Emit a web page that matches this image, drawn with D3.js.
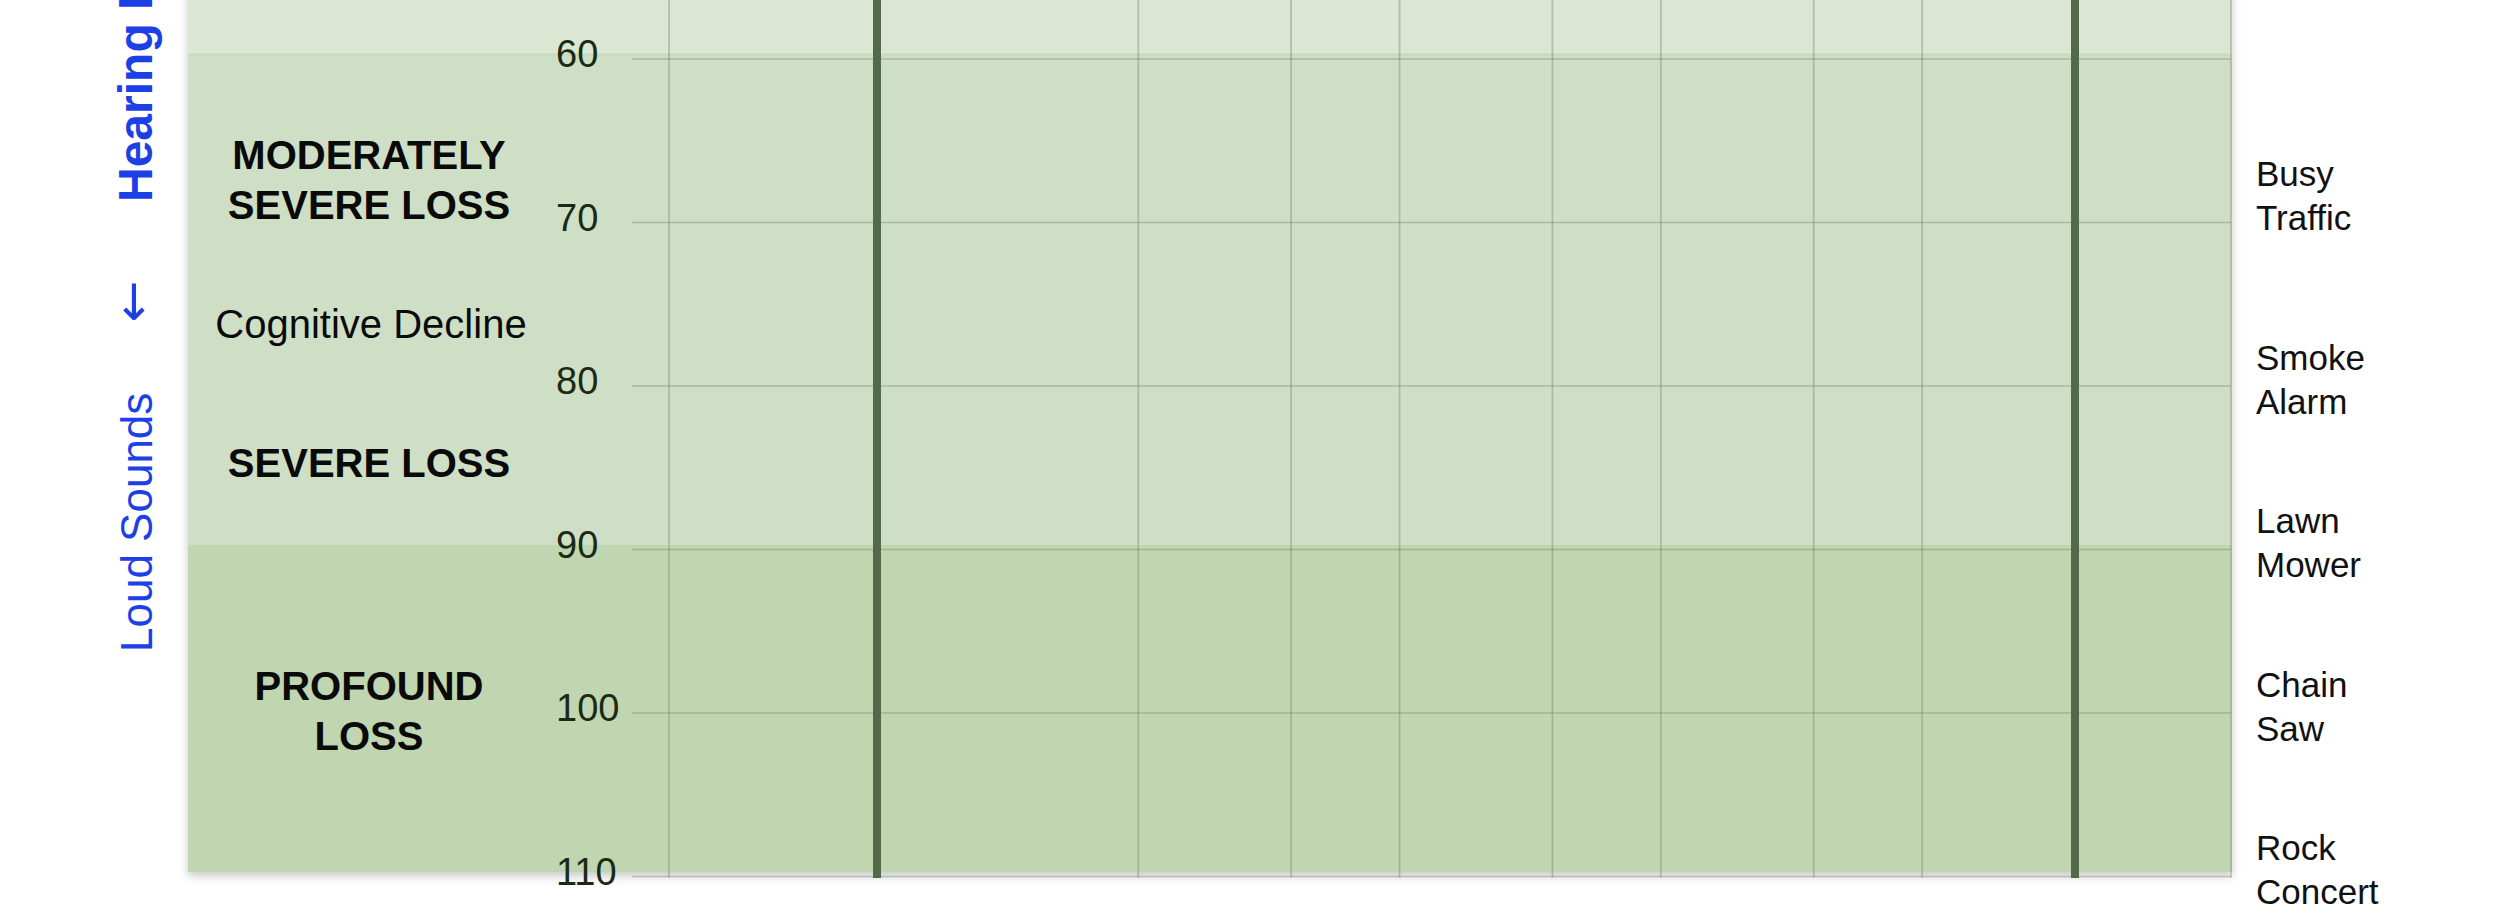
<!DOCTYPE html>
<html>
<head>
<meta charset="utf-8">
<script src="https://cdn.jsdelivr.net/npm/d3@7"></script>
<style>
  html, body { margin: 0; padding: 0; background: #fff; }
  svg { display: block; font-family: "Liberation Sans", Arial, Helvetica, sans-serif; }
</style>
</head>
<body>
<div id="chart"></div>
<script>
/* ===== Audiogram (lower part): loss bands, grid, sound examples ===== */

const DB_TICKS = [60, 70, 80, 90, 100, 110];
const FREQS = [250, 500, 750, 1000, 1500, 2000, 3000, 4000, 6000];
const BOLD_FREQS = [250, 6000];

const BAND_FROM = [40, 60, 90];
const BAND_TO = [60, 90, 110];
const BAND_COLORS = ['#dbe6d3', '#cfdfc5', '#c0d6b1'];

const LOSS_LABELS = [['MODERATELY', 'SEVERE LOSS'], ['SEVERE LOSS'], ['PROFOUND', 'LOSS']];
const LOSS_LABEL_DB = [67.4, 84.7, 99.9];
const NOTE_LABEL = 'Cognitive Decline';
const NOTE_DB = 76.2;

const SOUNDS = [['Busy', 'Traffic'], ['Smoke', 'Alarm'], ['Lawn', 'Mower'], ['Chain', 'Saw'], ['Rock', 'Concert']];
const SOUND_DB = [68.8, 80, 90, 100, 110];

const width = 2500, height = 913;
const plotLeft = 669, plotRight = 2231, plotBottom = 878;
const bandLeft = 188;
const blue = '#1c3fe6';
const gridColor = '#6f7f68';

const svg = d3.select('#chart').append('svg')
  .attr('width', width).attr('height', height)
  .attr('viewBox', `0 0 ${width} ${height}`);

const y = d3.scaleLinear().domain([60, 110]).range([58.5, 876]);
const x = d3.scaleLog().domain([250, 6000]).range([877, 2075]);

// soft shadow under the coloured bands
const defs = svg.append('defs');
const f = defs.append('filter').attr('id', 'shadow')
  .attr('x', '-5%').attr('y', '-5%').attr('width', '110%').attr('height', '115%');
f.append('feDropShadow').attr('dx', 0).attr('dy', 4).attr('stdDeviation', 5)
  .attr('flood-color', '#000').attr('flood-opacity', 0.22);

// Loss bands
const bandG = svg.append('g').attr('transform', 'translate(0,-4)');
bandG.append('g').attr('filter', 'url(#shadow)')
  .selectAll('rect')
  .data(BAND_FROM.map((d, i) => ({ from: d, to: BAND_TO[i], color: BAND_COLORS[i] })))
  .join('rect')
  .attr('x', bandLeft)
  .attr('width', plotRight + 1 - bandLeft)
  .attr('y', d => y(d.from))
  .attr('height', d => y(d.to) - y(d.from))
  .attr('fill', d => d.color);

// highlight line on the top band edge
bandG.append('line')
  .attr('x1', bandLeft).attr('x2', plotRight)
  .attr('y1', y(60)).attr('y2', y(60))
  .attr('stroke', '#c6dbb6').attr('stroke-width', 2);

// Horizontal grid (axis ticks stretched across)
svg.append('g')
  .attr('transform', `translate(${plotRight},0)`)
  .call(d3.axisLeft(y).tickValues(DB_TICKS).tickSize(plotRight - 632).tickFormat(''))
  .call(g => g.select('.domain').remove())
  .selectAll('line')
  .attr('stroke', gridColor).attr('stroke-opacity', 0.4).attr('stroke-width', 1.7);

// Frame + vertical grid
svg.append('g').selectAll('line')
  .data([plotLeft, plotRight])
  .join('line')
  .attr('x1', d => d).attr('x2', d => d)
  .attr('y1', 0).attr('y2', plotBottom)
  .attr('stroke', gridColor).attr('stroke-opacity', 0.4).attr('stroke-width', 1.7);

svg.append('g').selectAll('line')
  .data(FREQS)
  .join('line')
  .attr('x1', d => x(d)).attr('x2', d => x(d))
  .attr('y1', 0).attr('y2', plotBottom)
  .attr('stroke', d => BOLD_FREQS.includes(d) ? '#52694a' : gridColor)
  .attr('stroke-opacity', d => BOLD_FREQS.includes(d) ? 1 : 0.4)
  .attr('stroke-width', d => BOLD_FREQS.includes(d) ? 8 : 1.7);

// dB tick labels
svg.append('g')
  .attr('transform', 'translate(556,0)')
  .call(d3.axisRight(y).tickValues(DB_TICKS).tickSize(0).tickPadding(0))
  .call(g => g.select('.domain').remove())
  .selectAll('text')
  .attr('dy', '0.22em')
  .style('font-family', '"Liberation Sans", Arial, sans-serif')
  .style('font-size', '38px')
  .style('fill', '#1b2a14');

// Loss band labels
LOSS_LABELS.forEach((lines, i) => {
  const lh = 50;
  const y0 = y(LOSS_LABEL_DB[i]) - (lines.length - 1) * lh / 2 + 14.3;
  const t = svg.append('text')
    .attr('text-anchor', 'middle')
    .style('font-size', '40px').style('font-weight', 'bold').style('fill', '#0a0a0a');
  lines.forEach((s, j) => {
    t.append('tspan').attr('x', 369).attr('y', y0 + j * lh).text(s);
  });
});

svg.append('text')
  .attr('x', 371).attr('y', y(NOTE_DB) + 14.5)
  .attr('text-anchor', 'middle')
  .style('font-size', '40px').style('fill', '#0a0a0a')
  .text(NOTE_LABEL);

// Sound examples on the right
SOUNDS.forEach((lines, i) => {
  const t = svg.append('text').style('font-size', '35px').style('fill', '#111');
  lines.forEach((s, j) => {
    t.append('tspan').attr('x', 2256).attr('y', y(SOUND_DB[i]) - 16 + j * 44).text(s);
  });
});

// Y axis title (top is cut off in the source)
svg.append('text')
  .attr('transform', 'translate(152,202) rotate(-90)')
  .style('font-size', '48px').style('font-weight', 'bold').style('fill', blue)
  .text('Hearing Level');

svg.append('text')
  .attr('x', 134).attr('y', 320)
  .attr('text-anchor', 'middle')
  .style('font-family', '"DejaVu Sans", sans-serif')
  .style('font-size', '50px').style('fill', blue)
  .text('↓');

svg.append('text')
  .attr('transform', 'translate(152,652) rotate(-90)')
  .style('font-size', '44px').style('fill', blue)
  .text('Loud Sounds');
</script>
</body>
</html>
